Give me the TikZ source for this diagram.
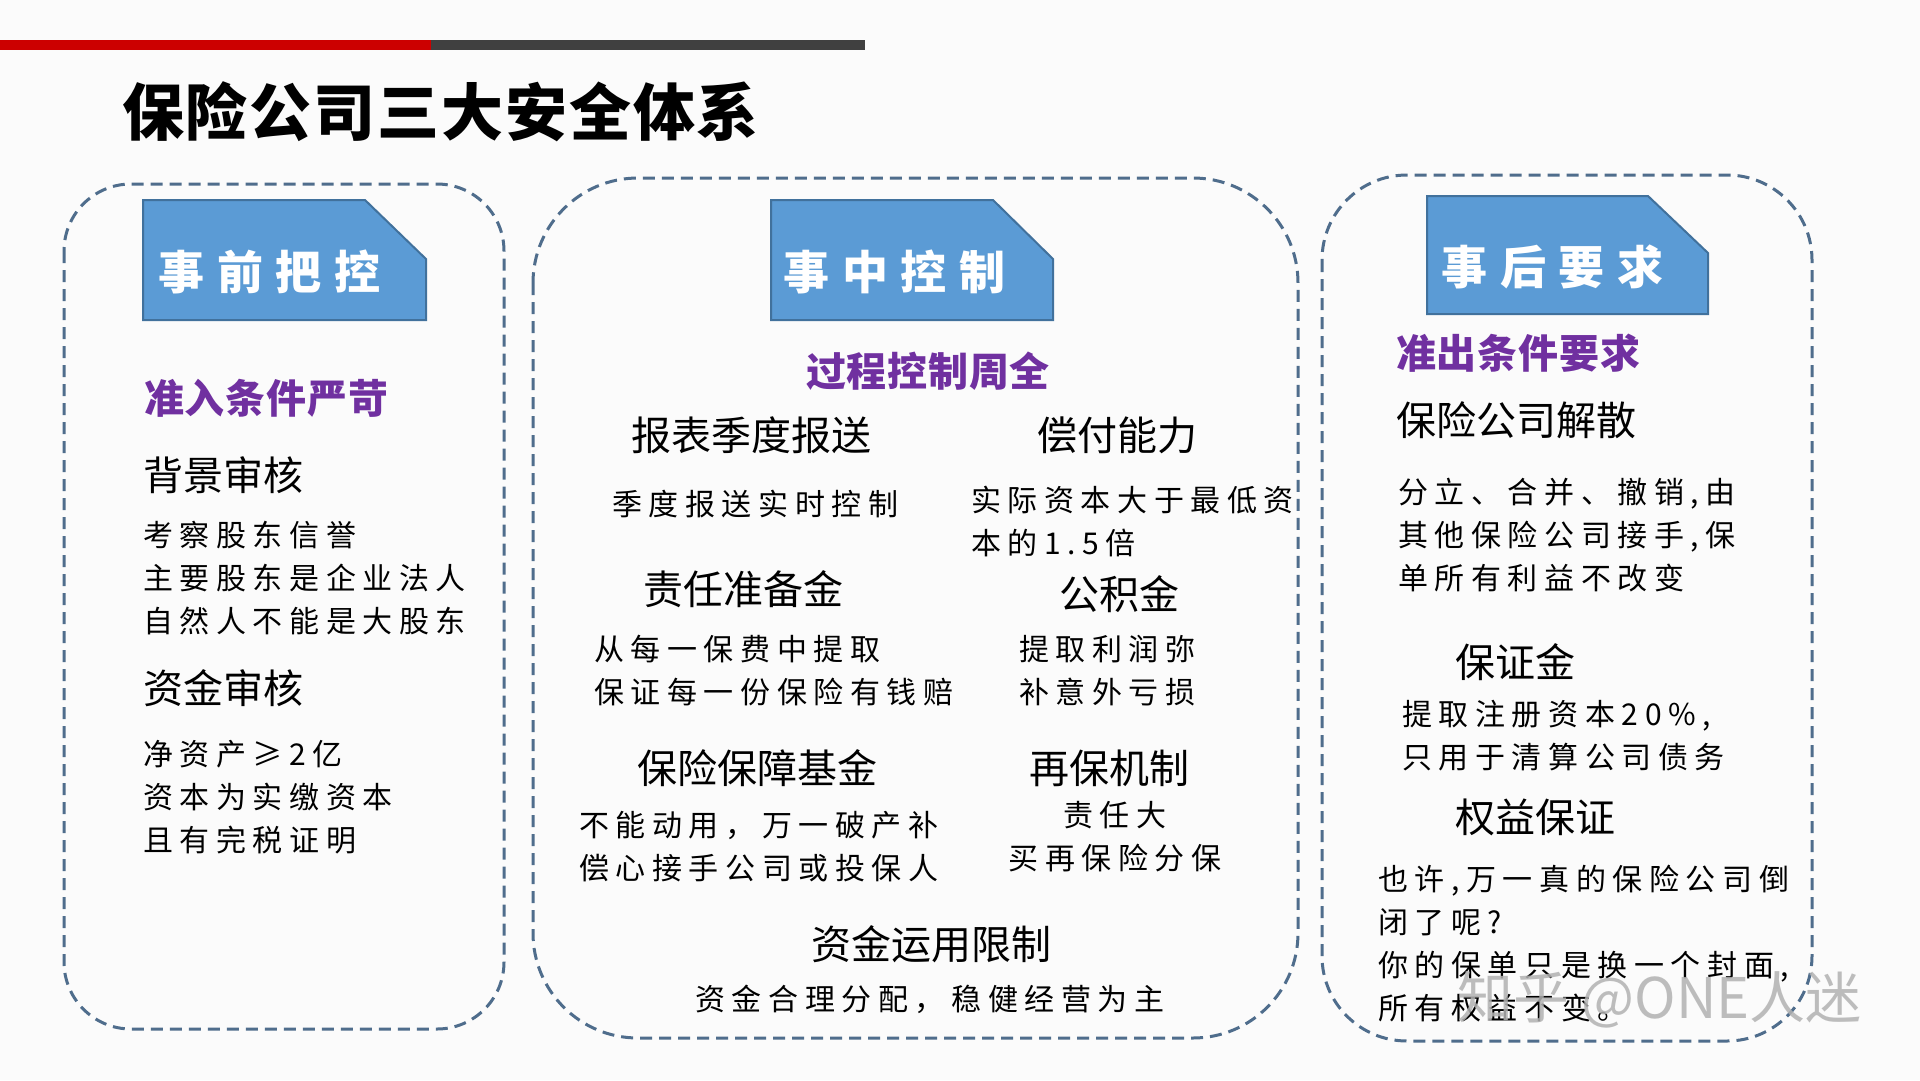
\documentclass[tikz,border=0pt]{standalone}
\usepackage{fontspec}
\setmainfont{Noto Sans CJK SC}
\newfontfamily\cjkbody[LetterSpace=22]{Noto Sans CJK SC}
\newfontfamily\cjktab[LetterSpace=28]{Noto Sans CJK SC}
\newfontfamily\cjktitle[LetterSpace=3]{Noto Sans CJK SC}
\newfontfamily\cjkhead[LetterSpace=2]{Noto Sans CJK SC}
\usetikzlibrary{positioning}
\definecolor{barred}{RGB}{204,0,0}
\definecolor{bardark}{RGB}{64,64,64}
\definecolor{tabfill}{RGB}{91,155,213}
\definecolor{tabline}{RGB}{65,113,156}
\definecolor{headpurple}{RGB}{112,48,160}
\definecolor{framecol}{RGB}{79,109,140}

\begin{document}
\begin{tikzpicture}[x=1pt,y=-1pt,
  frame/.style={draw=framecol, line width=3pt, dash pattern=on 12pt off 7pt},
  tabbox/.style={fill=tabfill, draw=tabline, line width=2pt},
  tabtxt/.style={anchor=west, inner sep=0pt, text=white, font=\cjktab\bfseries\fontsize{46}{46}\selectfont},
  purphead/.style={anchor=west, inner sep=0pt, text=headpurple, font=\cjkhead\bfseries\fontsize{40}{40}\selectfont},
  subhead/.style={anchor=west, inner sep=0pt, font=\fontsize{40}{40}\selectfont},
  bodytxt/.style={anchor=west, inner sep=0pt, align=left, font=\cjkbody\fontsize{30}{43}\selectfont}]
  \useasboundingbox (0,0) rectangle (1920,1080);
  \fill[gray!3] (0,0) rectangle (1920,1080);

  % top bar and title
  \fill[barred] (0,40) rectangle (431,50);
  \fill[bardark] (431,40) rectangle (865,50);
  \node[anchor=west, inner sep=0pt, font=\cjktitle\bfseries\fontsize{62}{62}\selectfont] (title) at (122,112) {保险公司三大安全体系};

  % dashed frames
  \draw[frame, rounded corners=67pt] (64,184) rectangle (504,1029);
  \draw[frame, rounded corners=105pt] (533,178) rectangle (1298,1038);
  \draw[frame, rounded corners=85pt] (1322,175) rectangle (1812,1041);

  % tabs
  \draw[tabbox] (143,200) -- (365,200) -- (426,259) -- (426,320) -- (143,320) -- cycle;
  \draw[tabbox] (771,200) -- (993,200) -- (1053,259) -- (1053,320) -- (771,320) -- cycle;
  \draw[tabbox] (1427,196) -- (1648,196) -- (1708,253) -- (1708,314) -- (1427,314) -- cycle;
  \node[tabtxt] (before) at (158,272) {事前把控};
  \node[tabtxt] (during) at (783,272) {事中控制};
  \node[tabtxt] (after) at (1441,267) {事后要求};

  % left column
  \node[purphead] (inreq) at (144,398) {准入条件严苛};
  \node[subhead] (bgchk) at (143,475) {背景审核};
  \node[bodytxt] (bgtxt) at (143,578) {考察股东信誉\\主要股东是企业法人\\自然人不能是大股东};
  \node[subhead] (capchk) at (143,688) {资金审核};
  \node[bodytxt] (captxt) at (143,797) {净资产≥2亿\\资本为实缴资本\\且有完税证明};

  % middle column
  \node[purphead, anchor=center] (process) at (928,371) {过程控制周全};
  \node[subhead] (rpt) at (631,435) {报表季度报送};
  \node[subhead] (solv) at (1037,435) {偿付能力};
  \node[bodytxt] (rpttxt) at (612,504) {季度报送实时控制};
  \node[bodytxt] (solvtxt) at (971,521) {实际资本大于最低资\\本的1.5倍};
  \node[subhead] (resv) at (643,589) {责任准备金};
  \node[subhead] (surp) at (1059,594) {公积金};
  \node[bodytxt] (resvtxt) at (594,671) {从每一保费中提取\\保证每一份保险有钱赔};
  \node[bodytxt] (surptxt) at (1019,671) {提取利润弥\\补意外亏损};
  \node[subhead] (fund) at (637,768) {保险保障基金};
  \node[subhead] (reins) at (1029,768) {再保机制};
  \node[bodytxt] (fundtxt) at (579,847) {不能动用，万一破产补\\偿心接手公司或投保人};
  \node[bodytxt, anchor=center, align=center] (reinstxt) at (1115,837) {责任大\\买再保险分保};
  \node[subhead, anchor=center] (invest) at (931,944) {资金运用限制};
  \node[bodytxt, anchor=center] (investtxt) at (930,999) {资金合理分配，稳健经营为主};

  % right column
  \node[purphead] (outreq) at (1396,353) {准出条件要求};
  \node[subhead] (dissolve) at (1396,420) {保险公司解散};
  \node[bodytxt] (distxt) at (1398,535) {分立、合并、撤销,由\\其他保险公司接手,保\\单所有利益不改变};
  \node[subhead] (deposit) at (1455,662) {保证金};
  \node[bodytxt] (deptxt) at (1402,736) {提取注册资本20\%,\\只用于清算公司债务};
  \node[subhead] (rights) at (1455,817) {权益保证};
  \node[bodytxt] (rightstxt) at (1378,944) {也许,万一真的保险公司倒\\闭了呢?\\你的保单只是换一个封面,\\所有权益不变。};

  % watermark
  \node[anchor=west, inner sep=0pt, text=gray!60, opacity=0.85, font=\fontsize{56}{56}\selectfont] (mark) at (1457,1000) {知乎 @ONE人迷};
\end{tikzpicture}
\end{document}
